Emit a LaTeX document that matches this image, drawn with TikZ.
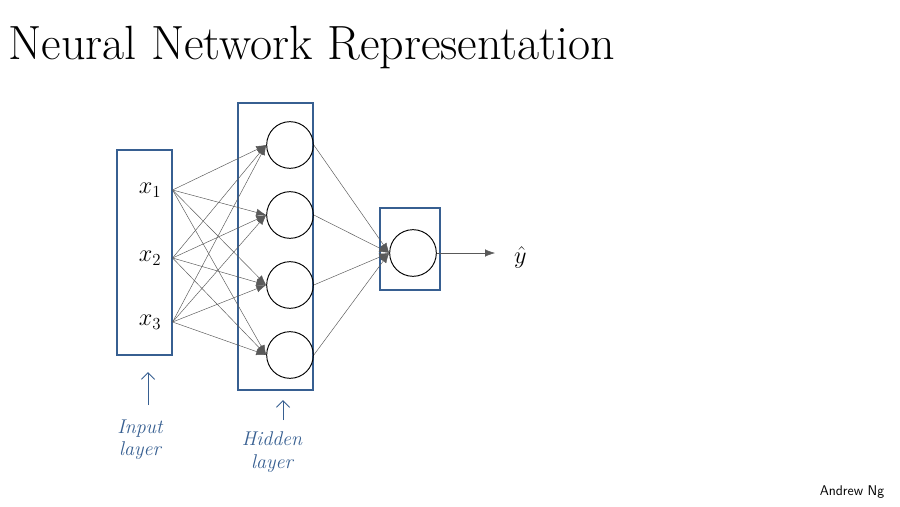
\documentclass[tikz,border=0pt]{standalone}
\usepackage{fontspec}
\usetikzlibrary{arrows.meta,positioning}
\definecolor{penblue}{RGB}{55,95,145}
\begin{document}
\begin{tikzpicture}[x=0.03cm,y=-0.03cm,
  neuron/.style={circle, draw, thick, minimum size=1.4cm, inner sep=0pt},
  layerbox/.style={draw=penblue, very thick},
  edge/.style={draw=gray!70!black, -{Latex[length=3mm,width=2.2mm]}},
  note/.style={penblue, font=\fontsize{17}{19}\selectfont\itshape, align=center},
  inp/.style={font=\fontsize{22}{24}\selectfont}]
\useasboundingbox (0,0) rectangle (900,506);

% Title
\node[anchor=base west, inner sep=0pt, font=\fontsize{41}{45}\selectfont] (title) at (8,60) {Neural Network Representation};

% Layer boxes
\draw[layerbox] (117,150) rectangle (172,355);
\draw[layerbox] (238,103) rectangle (313,390);
\draw[layerbox] (380,208) rectangle (440,290);

% Inputs
\foreach \i/\y in {1/190,2/258,3/322}
  \node[inp, inner sep=1pt] (x\i) at (150,\y) {$x_{\i}$};

% Hidden layer
\foreach \j/\y in {1/145,2/215,3/285,4/355}
  \node[neuron] (h\j) at (290,\y) {};

% Output
\node[neuron] (out) at (413,253) {};
\coordinate (yend) at (495,253);
\node[inp, anchor=west, inner sep=0pt] (yhat) at (514,257) {$\hat{y}$};

% Connections
\foreach \i in {1,2,3}
  \foreach \j in {1,2,3,4}
    \draw[edge] ([xshift=0.3cm]x\i.east) -- (h\j.west);
\foreach \j in {1,2,3,4}
  \draw[edge] (h\j.east) -- (out.west);
\draw[edge] (out.east) -- (yend);

% Annotations
\coordinate (inarrow) at (148,405);
\coordinate (inbox) at (148,372);
\draw[penblue, thick, -{Straight Barb[length=2mm]}] (inarrow) -- (inbox);
\node[note] (inlabel) at (140,440) {Input\\layer};
\coordinate (hidarrow) at (283,420);
\coordinate (hidbox) at (283,400);
\draw[penblue, thick, -{Straight Barb[length=2mm]}] (hidarrow) -- (hidbox);
\node[note] (hidlabel) at (272,452) {Hidden\\layer};

\node[font=\sffamily\fontsize{12}{14}\selectfont] (author) at (852,492) {Andrew Ng};
\end{tikzpicture}
\end{document}
